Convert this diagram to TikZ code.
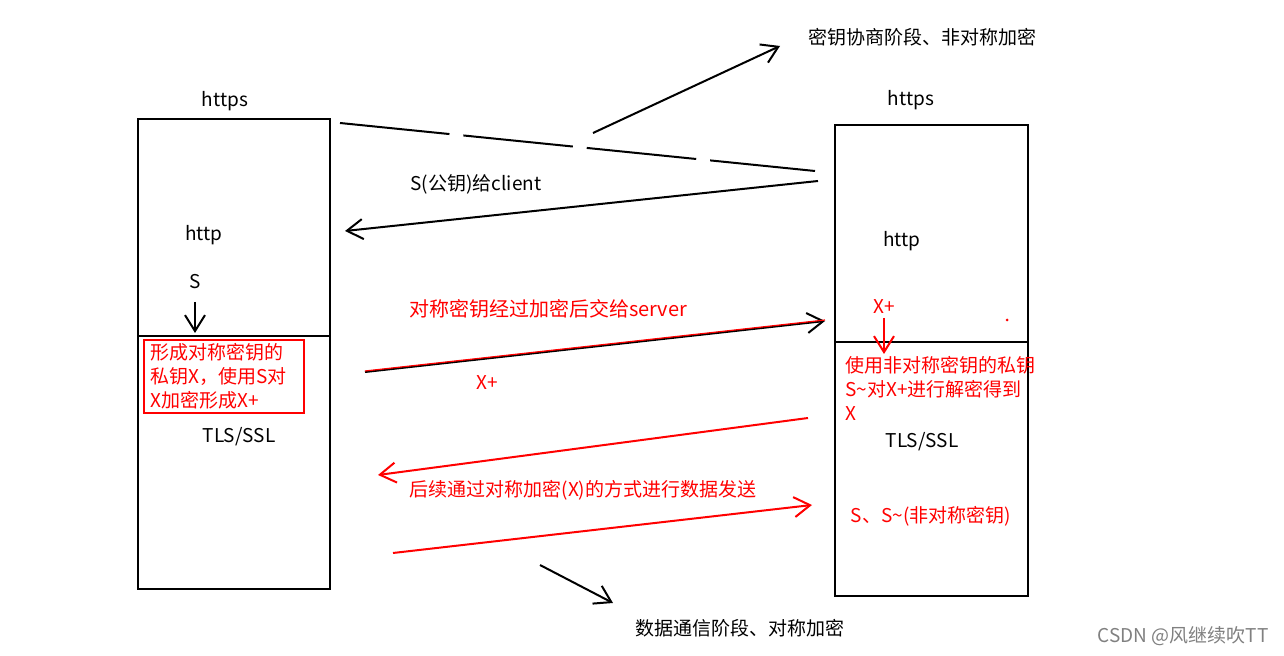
\documentclass[tikz,border=0pt]{standalone}
\usepackage{fontspec}
\usetikzlibrary{arrows.meta}
\setmainfont{Noto Sans CJK SC}
\begin{document}
\begin{tikzpicture}[x=0.5pt,y=-0.5pt,
 box/.style={draw,line width=1pt},
 t/.style={font=\fontsize{9.5}{12}\selectfont,inner sep=0},
 rt/.style={t,text=red},
 arr/.style={line width=1pt,-{Straight Barb[length=8pt,width=10pt]}},
 rarr/.style={arr,red}]
\useasboundingbox (0,0) rectangle (1284,656);
\draw[box] (138,119) rectangle (330,589);
\draw[box] (138,336) -- (330,336);
\draw[box] (835,125) rectangle (1028,596);
\draw[box] (835,342) -- (1028,342);
\node[t] (h1) at (225,101) {https};
\node[t] (h2) at (911,100) {https};
\node[t] (p1) at (204,235) {http};
\node[t] (p2) at (902,241) {http};
\node[t] (s) at (195,282) {S};
\coordinate (sa) at (195,302); \coordinate (sb) at (195,333);
\draw[arr] (sa) -- (sb);
\node[t] (ts1) at (239,437) {TLS/SSL};
\node[t] (ts2) at (922,442) {TLS/SSL};
\coordinate (d1) at (340,123); \coordinate (d2) at (815,171);
\draw[line width=1pt,dash pattern=on 55pt off 7pt] (d1) -- (d2);
\coordinate (a1) at (593,133); \coordinate (a2) at (780,46);
\draw[arr] (a1) -- (a2);
\node[t] (l1) at (922,37) {密钥协商阶段、非对称加密};
\coordinate (b1) at (818,181); \coordinate (b2) at (345,231);
\draw[arr] (b1) -- (b2);
\node[t] (l2) at (476,184) {S(公钥)给client};
\draw[red,line width=1pt] (144,340) rectangle (304,413);
\node[rt,align=left,anchor=north west] (r1) at (150,343) {形成对称密钥的\\私钥X，使用S对\\X加密形成X+};
\coordinate (c1) at (365,372); \coordinate (c2) at (825,321);
\draw[arr] (c1) -- (c2);
\draw[red,line width=0.6pt] (365,371) -- (825,320);
\node[rt,font=\fontsize{10}{12}\selectfont] (l3) at (548,309) {对称密钥经过加密后交给server};
\node[rt] (x1) at (487,383) {X+};
\node[rt] (x2) at (884,307) {X+};
\coordinate (e1) at (884,318); \coordinate (e2) at (884,354);
\draw[rarr] (e1) -- (e2);
\fill[red] (1007,320) circle (1.5);
\node[rt,align=left,anchor=north west] (r2) at (845,356) {使用非对称密钥的私钥\\S\textasciitilde 对X+进行解密得到\\X};
\coordinate (f1) at (808,418); \coordinate (f2) at (378,475);
\draw[rarr] (f1) -- (f2);
\node[rt] (l4) at (583,490) {后续通过对称加密(X)的方式进行数据发送};
\coordinate (g1) at (393,553); \coordinate (g2) at (812,505);
\draw[rarr] (g1) -- (g2);
\node[rt] (l5) at (931,516) {S、S\textasciitilde (非对称密钥)};
\coordinate (k1) at (540,565); \coordinate (k2) at (613,603);
\draw[arr] (k1) -- (k2);
\node[t] (l6) at (740,628) {数据通信阶段、对称加密};
\node[t,text=gray] (wm) at (1183,636) {CSDN @风继续吹TT};
\end{tikzpicture}
\end{document}
